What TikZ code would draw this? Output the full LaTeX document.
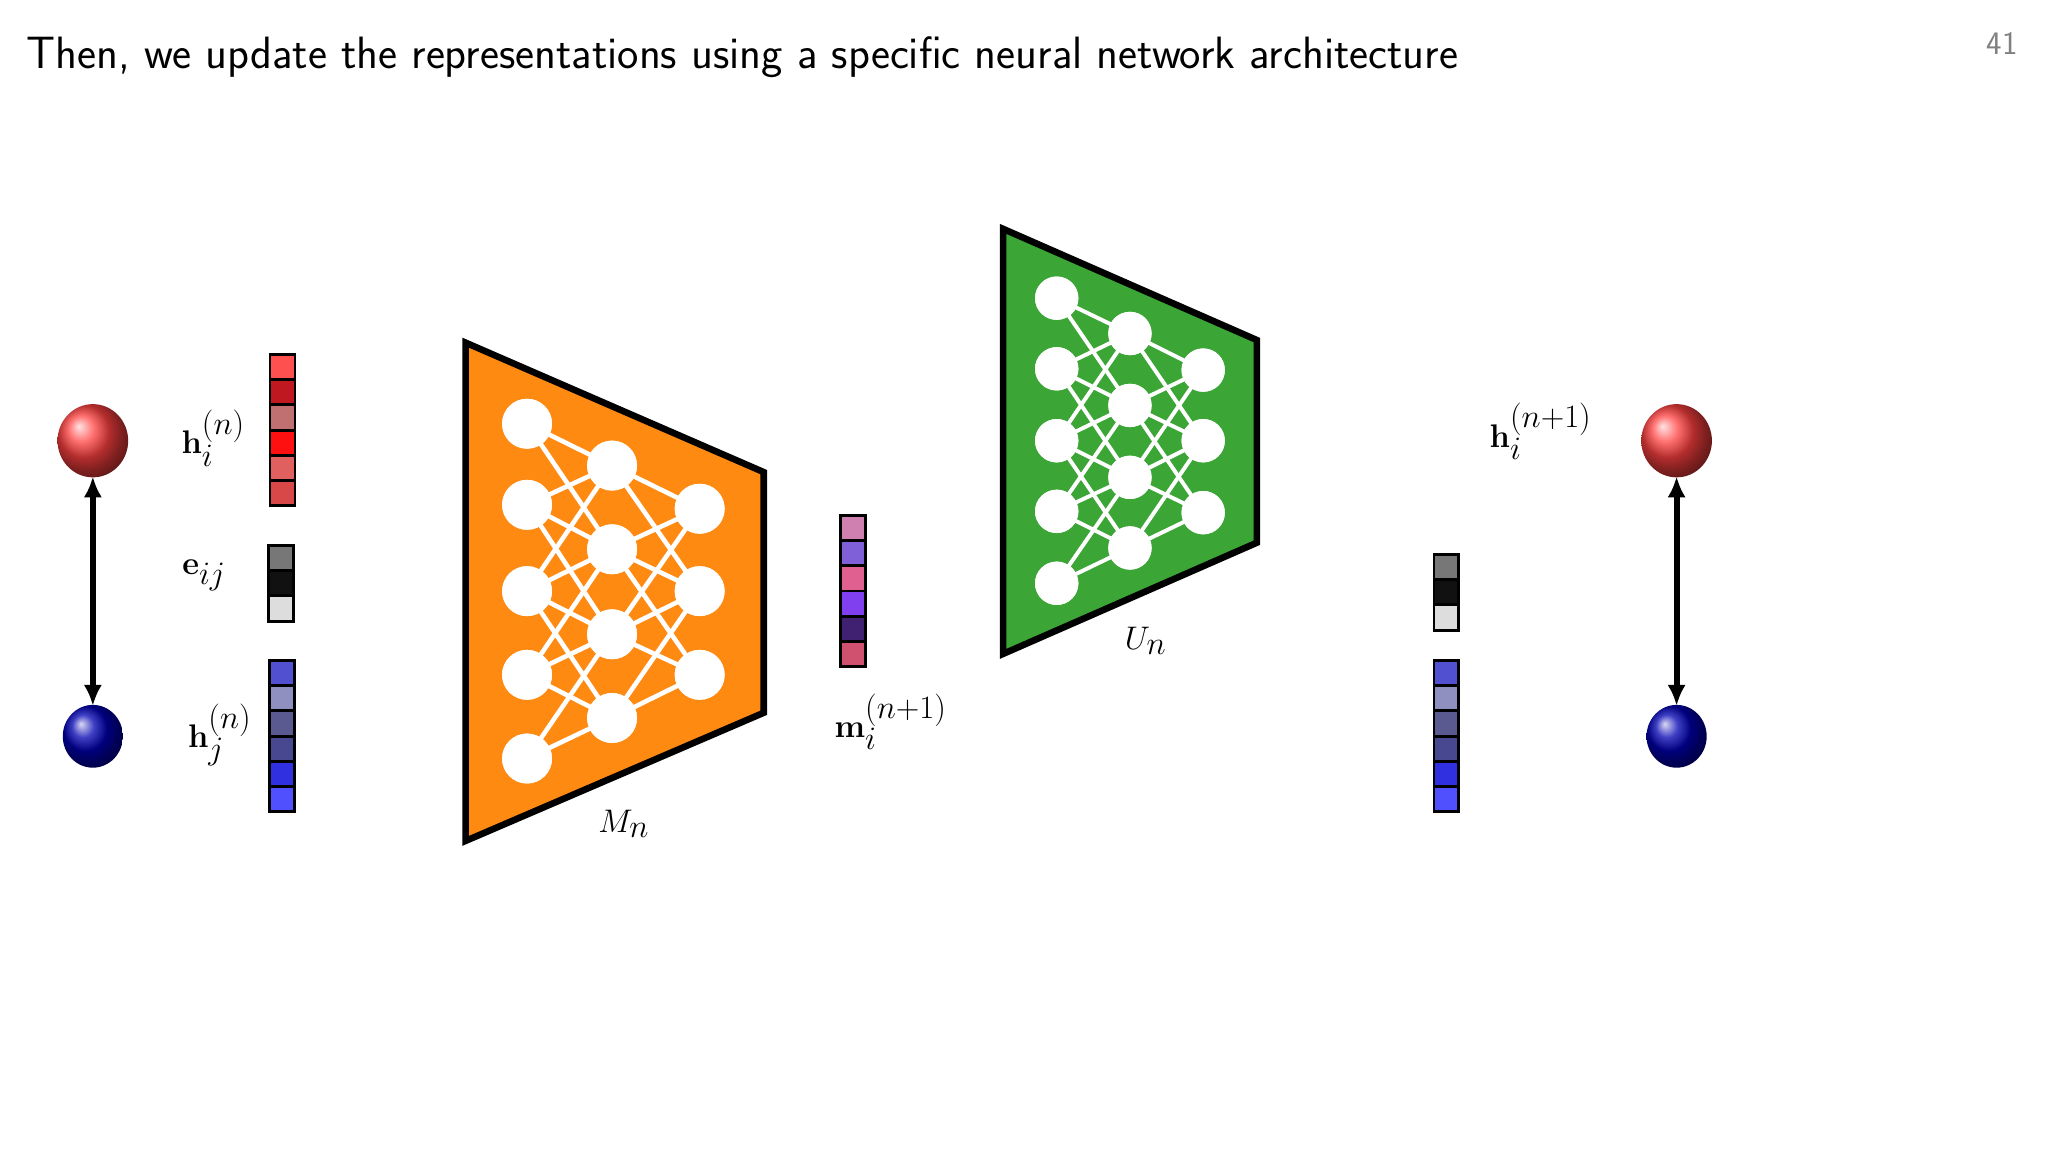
\documentclass[tikz,border=0pt]{standalone}
\usetikzlibrary{arrows.meta,shadings}
\begin{document}
\begin{tikzpicture}[x=0.996pt,y=-0.996pt,
  cell/.style={draw=black,line width=2.2pt,minimum width=19pt,minimum height=19.3pt,inner sep=0pt},
  nn/.style={circle,fill=white,inner sep=0pt},
  lab/.style={font=\fontsize{41}{46}\selectfont,inner sep=0pt},
  trap/.style={draw=black,line width=5pt,line join=miter},
  link/.style={white,line width=3.5pt},
  dbl/.style={line width=4.5pt,{Latex[length=16pt,width=14pt]}-{Latex[length=16pt,width=14pt]}},
  rball/.style={ball color=red!75!white},
  bball/.style={ball color=blue!70!black}]
\useasboundingbox (0,0) rectangle (1566,881);
\fill[white] (0,0) rectangle (1566,881);
\node[anchor=base west,inner sep=0pt,font=\sffamily\fontsize{34.5}{40}\selectfont] (title) at (20,52) {Then, we update the representations using a specific neural network architecture};
\node[anchor=base east,inner sep=0pt,text=gray,font=\sffamily\fontsize{25}{30}\selectfont] (page) at (1543,42) {41};
% balls
\shade[rball] (71,337) ellipse (27 and 28);
\node[circle,minimum size=54pt,inner sep=0pt] (r1) at (71,337) {};
\shade[bball] (71,563) ellipse (23 and 24);
\node[circle,minimum size=46pt,inner sep=0pt] (b1) at (71,563) {};
\draw[dbl] (r1.south) -- (b1.north);
\shade[rball] (1282,337) ellipse (27 and 28);
\node[circle,minimum size=54pt,inner sep=0pt] (r2) at (1282,337) {};
\shade[bball] (1282,563) ellipse (23 and 24);
\node[circle,minimum size=46pt,inner sep=0pt] (b2) at (1282,563) {};
\draw[dbl] (r2.south) -- (b2.north);
% labels
\node[lab] (lhi) at (163,335) {$\mathbf{h}_i^{(n)}$};
\node[lab] (leij) at (156,440) {$\mathbf{e}_{ij}$};
\node[lab] (lhj) at (168,562) {$\mathbf{h}_j^{(n)}$};
\node[lab] (lm) at (681,552) {$\mathbf{m}_i^{(n+1)}$};
\node[lab] (lM) at (477,630) {$M_n$};
\node[lab] (lU) at (876,490) {$U_n$};
\node[lab] (lh2) at (1178,330) {$\mathbf{h}_i^{(n+1)}$};
% vectors
\definecolor{c1}{HTML}{FF5050}\definecolor{c2}{HTML}{C01820}\definecolor{c3}{HTML}{C07070}
\definecolor{c4}{HTML}{FF1010}\definecolor{c5}{HTML}{E06060}\definecolor{c6}{HTML}{D84848}
\definecolor{g1}{HTML}{777777}\definecolor{g2}{HTML}{111111}\definecolor{g3}{HTML}{DDDDDD}
\definecolor{b1}{HTML}{5050D0}\definecolor{b2}{HTML}{9090C0}\definecolor{b3}{HTML}{5A5A90}
\definecolor{b4}{HTML}{484890}\definecolor{b5}{HTML}{3030E0}\definecolor{b6}{HTML}{5050FF}
\definecolor{m1}{HTML}{D080B0}\definecolor{m2}{HTML}{8060D8}\definecolor{m3}{HTML}{E06090}
\definecolor{m4}{HTML}{8040F0}\definecolor{m5}{HTML}{402070}\definecolor{m6}{HTML}{D05070}
\foreach \c [count=\k] in {c1,c2,c3,c4,c5,c6} \node[cell,fill=\c] (hr\k) at (216,271+9.65+19.3*\k-19.3) {};
\foreach \c [count=\k] in {g1,g2,g3} \node[cell,fill=\c] (e\k) at (215,417+9.65+19.3*\k-19.3) {};
\foreach \c [count=\k] in {b1,b2,b3,b4,b5,b6} \node[cell,fill=\c] (hb\k) at (215.5,505+9.65+19.3*\k-19.3) {};
\foreach \c [count=\k] in {m1,m2,m3,m4,m5,m6} \node[cell,fill=\c] (m\k) at (652,394+9.65+19.3*\k-19.3) {};
\foreach \c [count=\k] in {g1,g2,g3} \node[cell,fill=\c] (e2\k) at (1106,424+9.65+19.3*\k-19.3) {};
\foreach \c [count=\k] in {b1,b2,b3,b4,b5,b6} \node[cell,fill=\c] (hb2\k) at (1106,505+9.65+19.3*\k-19.3) {};
% M network
\definecolor{org}{HTML}{FF8A12}\definecolor{grn}{HTML}{3BA535}
\draw[trap,fill=org] (356,262) -- (584,361) -- (584,545) -- (356,643) -- cycle;
\foreach \y [count=\i from 0] in {324,386,452,516,580} \node[nn,minimum size=38pt] (ma\i) at (403,\y) {};
\foreach \y [count=\i from 0] in {356,420,485,549} \node[nn,minimum size=38pt] (mb\i) at (468,\y) {};
\foreach \y [count=\i from 0] in {389,452,516} \node[nn,minimum size=38pt] (mc\i) at (535,\y) {};
\foreach \i in {0,...,4} \foreach \j in {0,...,3} {
  \pgfmathtruncatemacro\d{\j-\i}
  \ifnum\d>-3 \ifnum\d<2 \draw[link] (ma\i.center) -- (mb\j.center); \fi\fi }
\foreach \j in {0,...,3} \foreach \k in {0,...,2} {
  \pgfmathtruncatemacro\d{\k-\j}
  \ifnum\d>-3 \ifnum\d<2 \draw[link] (mb\j.center) -- (mc\k.center); \fi\fi }
\foreach \y in {324,386,452,516,580} \node[nn,minimum size=38pt] at (403,\y) {};
\foreach \y in {356,420,485,549} \node[nn,minimum size=38pt] at (468,\y) {};
\foreach \y in {389,452,516} \node[nn,minimum size=38pt] at (535,\y) {};
% U network
\draw[trap,fill=grn] (767,175) -- (961,260) -- (961,415) -- (767,500) -- cycle;
\foreach \y [count=\i from 0] in {228,282,337,391,446} \node[nn,minimum size=33pt] (ua\i) at (808,\y) {};
\foreach \y [count=\i from 0] in {255,310,365,419} \node[nn,minimum size=33pt] (ub\i) at (864,\y) {};
\foreach \y [count=\i from 0] in {283,337,392} \node[nn,minimum size=33pt] (uc\i) at (920,\y) {};
\foreach \i in {0,...,4} \foreach \j in {0,...,3} {
  \pgfmathtruncatemacro\d{\j-\i}
  \ifnum\d>-3 \ifnum\d<2 \draw[link,line width=3pt] (ua\i.center) -- (ub\j.center); \fi\fi }
\foreach \j in {0,...,3} \foreach \k in {0,...,2} {
  \pgfmathtruncatemacro\d{\k-\j}
  \ifnum\d>-3 \ifnum\d<2 \draw[link,line width=3pt] (ub\j.center) -- (uc\k.center); \fi\fi }
\foreach \y in {228,282,337,391,446} \node[nn,minimum size=33pt] at (808,\y) {};
\foreach \y in {255,310,365,419} \node[nn,minimum size=33pt] at (864,\y) {};
\foreach \y in {283,337,392} \node[nn,minimum size=33pt] at (920,\y) {};
\end{tikzpicture}
\end{document}
